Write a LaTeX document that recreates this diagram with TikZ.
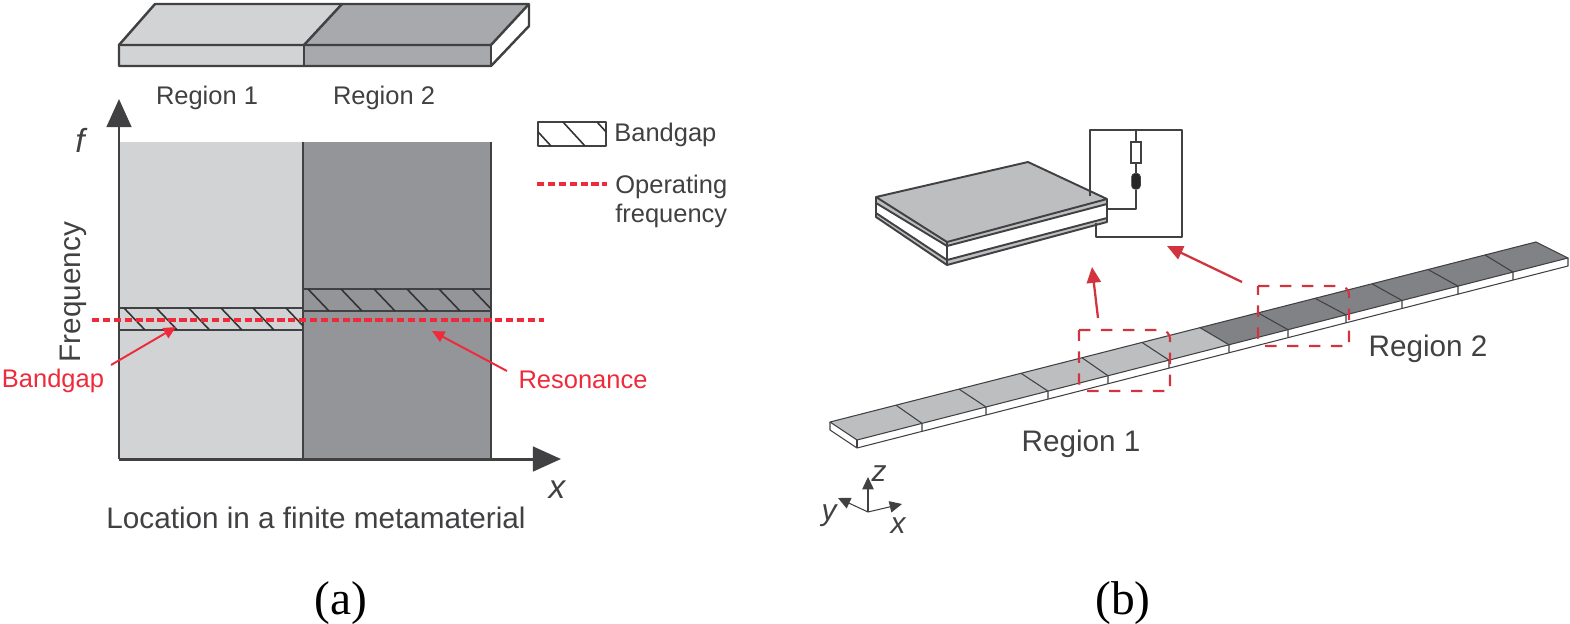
\documentclass[tikz,border=0pt]{standalone}
\usepackage{fontspec}
\setmainfont{Liberation Sans}
\newfontfamily\capfont{Liberation Serif}
\usetikzlibrary{arrows.meta, calc}

\definecolor{inkgray}{HTML}{414042}
\definecolor{lightblock}{HTML}{D1D3D4}
\definecolor{darkblock}{HTML}{A7A9AC}
\definecolor{darkplot}{HTML}{939598}
\definecolor{lightbeam}{HTML}{BCBEC0}
\definecolor{darkbeam}{HTML}{808285}
\definecolor{redline}{HTML}{EE2A3B}
\definecolor{redarrow}{HTML}{D2343F}

\tikzstyle{label} = [text=inkgray, inner sep=0pt,
font=\fontsize{14.5}{17}\selectfont]
\tikzstyle{biglabel} = [label,
font=\fontsize{16.9}{19}\selectfont]
\tikzstyle{axislabel} = [label,
font=\fontsize{19}{22}\selectfont\itshape]
\tikzstyle{smalllabel} = [label,
font=\fontsize{17}{20}\selectfont\itshape]
\tikzstyle{redlabel} = [label, text=redline]
\tikzstyle{caption} = [text=black, inner sep=0pt,
font=\fontsize{27}{30}\capfont]
\tikzstyle{edge} = [draw=inkgray, line width=1.4pt, line join=round]
\tikzstyle{wire} = [draw=inkgray, line width=1.1pt, line join=round]
\tikzstyle{hatch} = [black!80, line width=0.9pt]
\tikzstyle{axis} = [inkgray, line width=1.7pt,
-{Triangle[length=16pt,width=14pt]}]
\tikzstyle{smallaxis} = [inkgray, line width=0.6pt,
-{Triangle[length=7pt,width=6.5pt]}]
\tikzstyle{beam} = [draw=inkgray, line width=0.6pt, line join=round]
\tikzstyle{operating} = [redline, line width=2pt, dash pattern=on 4.2pt off 2pt]
\tikzstyle{redbox} = [redarrow, line width=1.2pt, dash pattern=on 6.5pt off 6pt]
\tikzstyle{pointer} = [redline, line width=1.1pt,
-{Triangle[length=7pt,width=6.5pt]}]
\tikzstyle{zoomarrow} = [redarrow, line width=1.3pt,
-{Triangle[length=9pt,width=8pt]}]

\begin{document}
\begin{tikzpicture}[x=0.02cm, y=-0.02cm]
\useasboundingbox (0,0) rectangle (1570,623);

% block on top
\fill[lightblock] (119,45) -- (155,4) -- (342,4) -- (304,45) -- (304,66) -- (119,66) -- cycle;
\fill[darkblock] (304,45) -- (342,4) -- (529,4) -- (491,45) -- (491,66) -- (304,66) -- cycle;
\draw[edge] (119,45) -- (155,4) -- (529,4) -- (529,26) -- (491,66) -- (119,66) -- cycle;
\draw[edge] (119,45) -- (491,45) -- (529,4);
\draw[edge] (491,45) -- (491,66);
\draw[edge] (304,45) -- (342,4);
\draw[edge] (304,45) -- (304,66);

\node (reg1) [label] at (207,98) {Region 1};
\node (reg2) [label] at (384,98) {Region 2};

% plot
\fill[lightblock] (119,142) rectangle (303,459);
\fill[darkplot] (303,142) rectangle (491,459);
\draw[edge] (303,142) -- (303,459);
\draw[edge] (491,142) -- (491,459);

\draw[edge] (119,308) rectangle (303,330);
\draw[edge] (303,289) rectangle (491,311);
\begin{scope}
\clip (119,308) rectangle (303,330);
\foreach \hx in {124,156.3,188.6,221,253,286}
  \draw[hatch] (\hx,308) -- ++(21,22);
\end{scope}
\begin{scope}
\clip (303,289) rectangle (491,311);
\foreach \hx in {308,341,374,407,439,472}
  \draw[hatch] (\hx,289) -- ++(21,22);
\end{scope}

\coordinate (origin) at (119,459);
\coordinate (ftip) at (119,99);
\coordinate (xtip) at (561,459);
\draw[axis] (origin) -- (ftip);
\draw[axis] (origin) -- (xtip);
\node (flabel) [axislabel] at (80,140) {f};
\node (xlabel) [axislabel] at (557,490) {x};
\node (freq) [biglabel, rotate=90] at (73,292) {Frequency};
\node (loc) [biglabel] at (316,518) {Location in a finite metamaterial};

\coordinate (opa) at (92,320);
\coordinate (opb) at (544,320);
\draw[operating] (opa) -- (opb);

\node (bgred) [redlabel] at (53,381) {Bandgap};
\node (resred) [redlabel] at (583,380) {Resonance};
\coordinate (bgtip) at (176,327);
\coordinate (restip) at (432,331);
\draw[pointer] (111,365) -- (bgtip);
\draw[pointer] (507,371) -- (restip);

% legend
\draw[edge] (538,122) rectangle (606,146);
\begin{scope}
\clip (538,122) rectangle (606,146);
\foreach \hx in {529,563,597}
  \draw[hatch] (\hx,122) -- ++(22,24);
\end{scope}
\node (lgbg) [label, anchor=west] at (614,135) {Bandgap};
\coordinate (lga) at (537,184);
\coordinate (lgb) at (607,184);
\draw[operating] (lga) -- (lgb);
\node (lgop) [label, anchor=west] at (615,187) {Operating};
\node (lgfr) [label, anchor=west] at (615,216) {frequency};

\node (capa) [caption] at (341,603) {(a)};
\node (capb) [caption] at (1123,603) {(b)};

% beam
\foreach \bx/\fx [count=\i] in {830/857,896/922,959/986,1021/1048,1082/1108,1142/1169,1200/1229,1258/1288,1315/1346,1372/1402,1428/1458,1485/1513,1536/1568} {
  \coordinate (b\i) at (\bx,{422-0.255*(\bx-830)});
  \coordinate (f\i) at (\fx,{440-0.256*(\fx-857)});
}
\fill[lightbeam] (b1) -- (b7) -- (f7) -- (f1) -- cycle;
\fill[darkbeam] (b7) -- (b13) -- (f13) -- (f7) -- cycle;
\draw[beam] (b1) -- (b13) -- (f13) -- (f1) -- cycle;
\draw[beam] (b1) -- ++(0,8) -- ($(f1)+(0,8)$) -- ($(f13)+(0,8)$) -- (f13);
\draw[beam] (f1) -- ++(0,8);
\foreach \i in {2,...,12} {
  \draw[beam] (b\i) -- (f\i) -- ++(0,8);
}

\node (r1) [biglabel] at (1081,444) {Region 1};
\node (r2) [biglabel] at (1428,349) {Region 2};

% plate
\fill[lightbeam] (876,197) -- (1028,162) -- (1107,199) -- (1107,204) -- (947,246) -- (876,203) -- cycle;
\fill[lightbeam] (876,213) -- (947,260) -- (1107,218) -- (1107,222) -- (947,265) -- (876,217) -- cycle;
\draw[wire] (876,197) -- (1028,162) -- (1107,199) -- (947,242) -- cycle;
\draw[wire] (876,197) -- (876,217) -- (947,265) -- (1107,222) -- (1107,199);
\draw[wire] (876,203) -- (947,246) -- (1107,204);
\draw[wire] (876,213) -- (947,260) -- (1107,218);
\draw[wire] (947,242) -- (947,265);

% circuit
\coordinate (wa) at (1090,196);
\coordinate (wb) at (1096,223);
\coordinate (wc) at (1107,209);
\draw[wire] (wa) -- (1090,130) -- (1182,130) -- (1182,237) -- (1096,237) -- (wb);
\node (res) [draw=inkgray, line width=0.9pt, minimum width=5.5pt, minimum height=12pt, inner sep=0pt, fill=white, anchor=north] at (1136,141) {};
\node (ind) [draw=inkgray, fill=black!85, rounded corners=2pt, minimum width=5pt, minimum height=9pt, inner sep=0pt, anchor=north] at (1136,173) {};
\draw[wire] (1136,130) -- (res);
\draw[wire] (res) -- (ind);
\draw[wire] (ind) |- (wc);

% red marks
\draw[redbox] (1079,330) [rounded corners=5pt] -- (1170,330) [sharp corners] -- (1170,391) [rounded corners=5pt] -- (1079,391) [sharp corners] -- cycle;
\draw[redbox] (1258,286) [rounded corners=5pt] -- (1349,286) [sharp corners] -- (1349,346) [rounded corners=5pt] -- (1258,346) [sharp corners] -- cycle;
\coordinate (atip) at (1092,267);
\coordinate (btip) at (1167,246);
\draw[zoomarrow] (1098,318) -- (atip);
\draw[zoomarrow] (1242,282) -- (btip);

% axes
\coordinate (o3) at (868,512);
\coordinate (ztip) at (868,477);
\coordinate (x3) at (902,504);
\coordinate (y3) at (838,498);
\draw[smallaxis] (o3) -- (ztip);
\draw[smallaxis] (o3) -- (x3);
\draw[smallaxis] (o3) -- (y3);
\node (zl) [smalllabel] at (879,474) {z};
\node (xl) [smalllabel] at (898,526) {x};
\node (yl) [smalllabel] at (829,516) {y};

\end{tikzpicture}
\end{document}
